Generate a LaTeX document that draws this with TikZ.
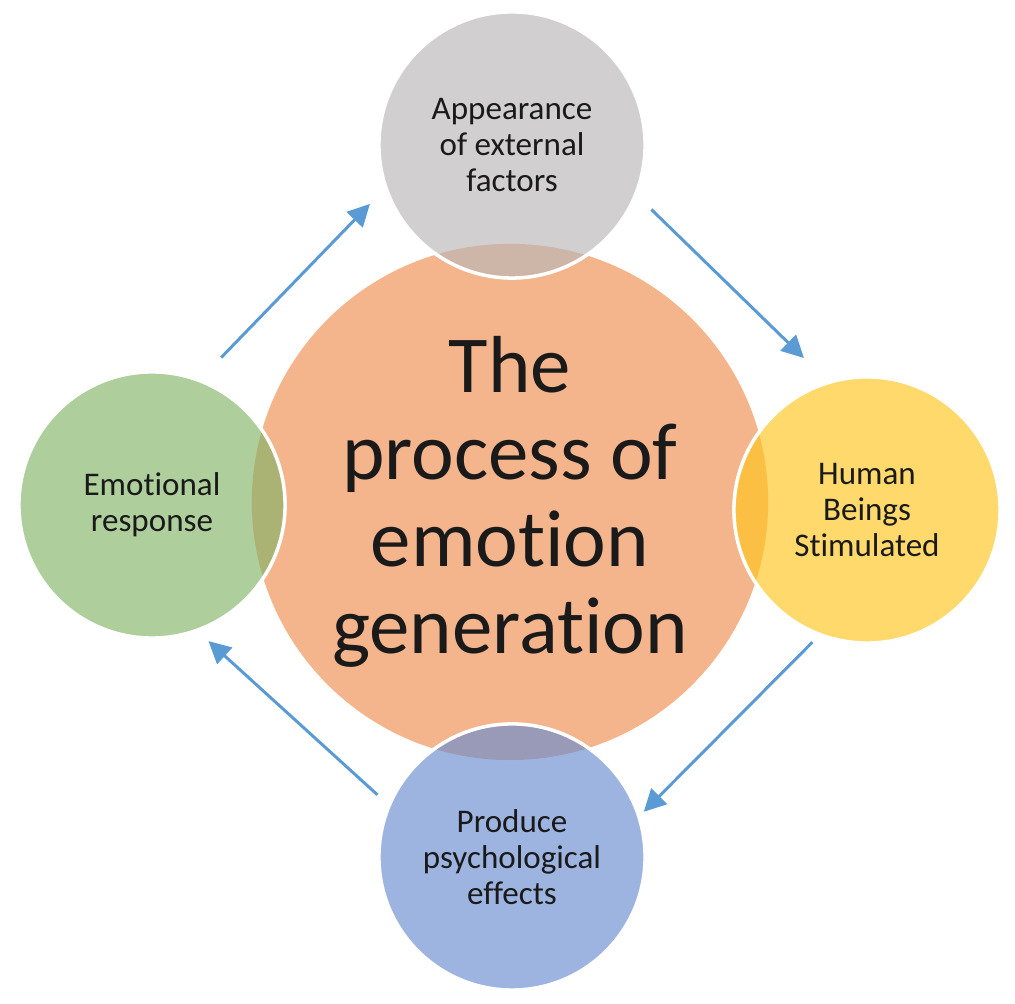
\documentclass[tikz,border=0pt]{standalone}
\usepackage{fontspec}
\setmainfont{Carlito}[Ligatures=NoCommon]
\usepackage{tikz}
\usetikzlibrary{arrows.meta,positioning,calc}
\definecolor{ink}{HTML}{1A1A1A}
\definecolor{hubfill}{HTML}{F5B58C}
\definecolor{grayfill}{HTML}{B8B6B6}
\definecolor{yellowfill}{HTML}{FFC51C}
\definecolor{greenfill}{HTML}{83B366}
\definecolor{bluefill}{HTML}{698CD1}
\definecolor{arrowblue}{HTML}{5B9BD5}
\tikzset{
  hub/.style={circle,fill=hubfill,minimum size=5.16cm,inner sep=0pt,
              align=center,text=ink,font=\fontsize{23}{24.8}\selectfont},
  stage/.style={circle,draw=white,line width=1pt,fill opacity=0.65,text opacity=1,
                minimum size=2.66cm,inner sep=0pt,align=center,text=ink,
                font=\fontsize{9.4}{10.2}\selectfont},
  cyclearr/.style={-{Triangle[length=2.2mm,width=2.2mm]},line width=0.85pt,color=arrowblue}
}

\begin{document}
\begin{tikzpicture}[x=0.01cm,y=0.01cm]
  \useasboundingbox (0,0) rectangle (1015,1004);

  \node[hub] (hub) at (510,502) {The\\process of\\emotion\\generation};

  \node[stage,fill=grayfill] (top) at (512,859) {Appearance\\of external\\factors};
  \node[stage,fill=yellowfill] (right) at (867,494) {Human\\Beings\\Stimulated};
  \node[stage,fill=bluefill] (bottom) at (512,147) {Produce\\psychological\\effects};
  \node[stage,fill=greenfill] (left) at (152,499) {Emotional\\response};

  \draw[cyclearr,shorten <=0.30cm,shorten >=0.21cm] (left.69.6) -- (top.199.8);
  \draw[cyclearr,shorten <=0.20cm,shorten >=0.33cm] (top.338.8) -- (right.107);
  \draw[cyclearr,shorten <=0.09cm,shorten >=0.05cm] (right.249.8) -- (bottom.18.1);
  \draw[cyclearr,shorten <=0.14cm,shorten >=0.14cm] (bottom.157) -- (left.290);
\end{tikzpicture}
\end{document}
